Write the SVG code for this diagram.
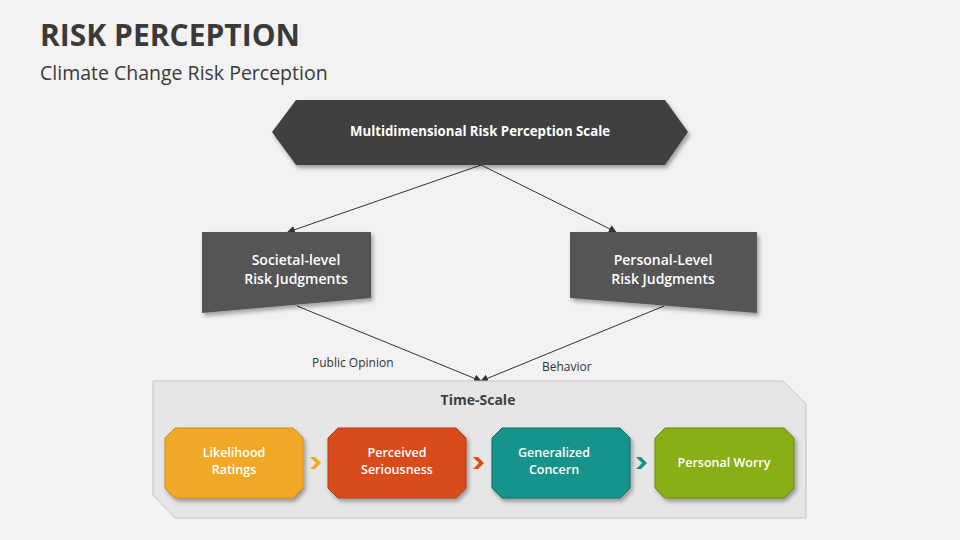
<svg xmlns="http://www.w3.org/2000/svg" width="960" height="540" viewBox="0 0 960 540">
<defs>
<marker id="ah" markerWidth="8" markerHeight="8" refX="7" refY="4" orient="auto" markerUnits="userSpaceOnUse"><path d="M0,0 L8,4 L0,8 z" fill="#333"/></marker>
<filter id="sh" x="-10%" y="-10%" width="130%" height="140%"><feDropShadow dx="2" dy="3" stdDeviation="2" flood-opacity="0.35"/></filter>
</defs>
<style>
text{font-family:"Open Sans","Liberation Sans",sans-serif}
.w{fill:#fff;font-size:12.5px;font-weight:600;text-anchor:middle}
.m{fill:#fff;font-size:14px;font-weight:600;text-anchor:middle}
.wb{fill:#fff;font-size:13.5px;font-weight:bold;text-anchor:middle}
.lbl{fill:#333;font-size:12px}
.ln{stroke:#333;stroke-width:1;fill:none}
</style>
<rect width="960" height="540" fill="#f2f2f2"/>
<text x="40" y="46" font-size="31" font-weight="bold" fill="#3a3a3a" textLength="260" lengthAdjust="spacingAndGlyphs">RISK PERCEPTION</text>
<text x="40" y="80" font-size="19.5" fill="#3a3a3a">Climate Change Risk Perception</text>
<g id="connectors">
<line class="ln" x1="481" y1="165" x2="288" y2="232" marker-end="url(#ah)"/>
<line class="ln" x1="481" y1="165" x2="616" y2="232" marker-end="url(#ah)"/>
<line class="ln" x1="297" y1="306" x2="481" y2="381" marker-end="url(#ah)"/>
<line class="ln" x1="664" y1="306" x2="481" y2="381" marker-end="url(#ah)"/>
<text class="lbl" x="312" y="367">Public Opinion</text>
<text class="lbl" x="542" y="371">Behavior</text>
</g>
<g id="top">
<path d="M272,132 L296,100 L665,100 L688,132 L665,165 L296,165 Z" fill="#404040" filter="url(#sh)"/>
<text class="wb" x="480" y="136" textLength="260" lengthAdjust="spacingAndGlyphs">Multidimensional Risk Perception Scale</text>
</g>
<g id="societal">
<path d="M202,232 L371,232 L371,298 L202,313 Z" fill="#555" filter="url(#sh)"/>
<text class="m" x="296" y="265">Societal-level</text>
<text class="m" x="296" y="284">Risk Judgments</text>
</g>
<g id="personal">
<path d="M570,232 L757,232 L757,313 L570,298 Z" fill="#555" filter="url(#sh)"/>
<text class="m" x="663" y="265">Personal-Level</text>
<text class="m" x="663" y="284">Risk Judgments</text>
</g>
<g id="timescale">
<path d="M153,381 L783,381 L806,404 L806,518 L175,518 L153,495 Z" fill="#e6e6e6" stroke="#c4c4c4"/>
<text x="478" y="405" font-size="14" font-weight="bold" fill="#404040" text-anchor="middle">Time-Scale</text>
</g>
<g id="likelihood">
<path d="M175,428 L293,428 L303,438 L303,488 L293,498 L175,498 L165,488 L165,438 Z" fill="#f0a828" stroke="#d08c10" filter="url(#sh)"/>
<text class="w" x="234" y="457">Likelihood</text><text class="w" x="234" y="474">Ratings</text>
</g>
<g id="seriousness">
<path d="M338,428 L456,428 L466,438 L466,488 L456,498 L338,498 L328,488 L328,438 Z" fill="#da4c1a" stroke="#b53a10" filter="url(#sh)"/>
<text class="w" x="397" y="457">Perceived</text><text class="w" x="397" y="474">Seriousness</text>
</g>
<g id="concern">
<path d="M502,428 L620,428 L630,438 L630,488 L620,498 L502,498 L492,488 L492,438 Z" fill="#13938a" stroke="#0d7069" filter="url(#sh)"/>
<text class="w" x="554" y="457">Generalized</text><text class="w" x="554" y="474">Concern</text>
</g>
<g id="worry">
<path d="M665,428 L784,428 L794,438 L794,488 L784,498 L665,498 L655,488 L655,438 Z" fill="#8aae14" stroke="#6b8a0c" filter="url(#sh)"/>
<text class="w" x="724" y="467">Personal Worry</text>
</g>
<g id="chevrons">
<path d="M310,457 L315,457 L321,463 L315,469 L310,469 L316,463 Z" fill="#f0a828"/>
<path d="M473,457 L478,457 L484,463 L478,469 L473,469 L479,463 Z" fill="#da4c1a"/>
<path d="M636,457 L641,457 L647,463 L641,469 L636,469 L642,463 Z" fill="#13938a"/>
</g>
</svg>
